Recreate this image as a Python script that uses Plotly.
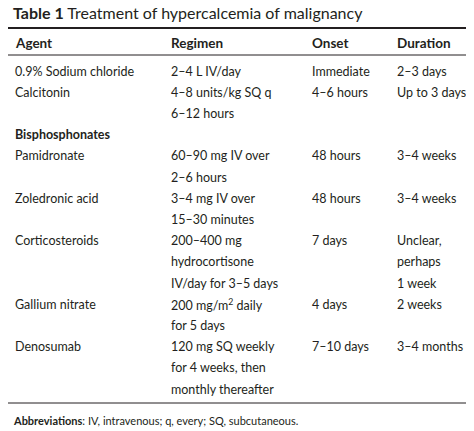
import plotly.graph_objects as go

title_bold = "Table 1"
title_rest = "Treatment of hypercalcemia of malignancy"
headers = ["Agent", "Regimen", "Onset", "Duration"]

agents = ["0.9% Sodium chloride", "Calcitonin", "<b>Bisphosphonates</b>", "Pamidronate",
          "Zoledronic acid", "Corticosteroids", "Gallium nitrate", "Denosumab"]
regimens = [["2–4 L IV/day"],
            ["4–8 units/kg SQ q", "6–12 hours"],
            [],
            ["60–90 mg IV over", "2–6 hours"],
            ["3–4 mg IV over", "15–30 minutes"],
            ["200–400 mg", "hydrocortisone", "IV/day for 3–5 days"],
            ["200 mg/m<sup>2</sup> daily", "for 5 days"],
            ["120 mg SQ weekly", "for 4 weeks, then", "monthly thereafter"]]
onsets = [["Immediate"], ["4–6 hours"], [], ["48 hours"], ["48 hours"], ["7 days"], ["4 days"], ["7–10 days"]]
durations = [["2–3 days"], ["Up to 3 days"], [], ["3–4 weeks"], ["3–4 weeks"],
             ["Unclear,", "perhaps", "1 week"], ["2 weeks"], ["3–4 months"]]
footnote = "<b>Abbreviations</b>: IV, intravenous; q, every; SQ, subcutaneous."

col_x = [5, 161, 302, 387]
FONT = "Lato, Open Sans, sans-serif"
COLOR = "#231f20"
line_h = 21.2
dy = -8  # the rendered page sits a few px lower than the axis maths says

ann = []
def txt(x, y, s, size=12.5):
    ann.append(dict(x=x, y=y + dy, text=s, showarrow=False, xanchor="left", yanchor="middle",
                    font=dict(family=FONT, size=size, color=COLOR)))

txt(3, 12, "<b>" + title_bold + "</b> " + title_rest, 16)
for x, h in zip(col_x, headers):
    txt(x, 43, "<b>" + h + "</b>", 13.5)

y = 71
for i, a in enumerate(agents):
    txt(col_x[0], y, a)
    for col, data in [(1, regimens), (2, onsets), (3, durations)]:
        for j, s in enumerate(data[i]):
            txt(col_x[col], y + j * line_h, s)
    n = max(1, len(regimens[i]), len(durations[i]))
    y += n * line_h

txt(3, 420, footnote, 11)

shapes = []
for yy, w in [(28, 2), (55, 1), (403, 1)]:
    shapes.append(dict(type="line", x0=0, x1=474, y0=yy + dy, y1=yy + dy,
                       line=dict(color=COLOR, width=w)))

fig = go.Figure()
fig.update_layout(width=474, height=431, margin=dict(l=0, r=0, t=0, b=0),
                  paper_bgcolor="white", plot_bgcolor="white",
                  xaxis=dict(range=[0, 474], visible=False),
                  yaxis=dict(range=[431, 0], visible=False),
                  annotations=ann, shapes=shapes)
fig.write_html("out.html")
